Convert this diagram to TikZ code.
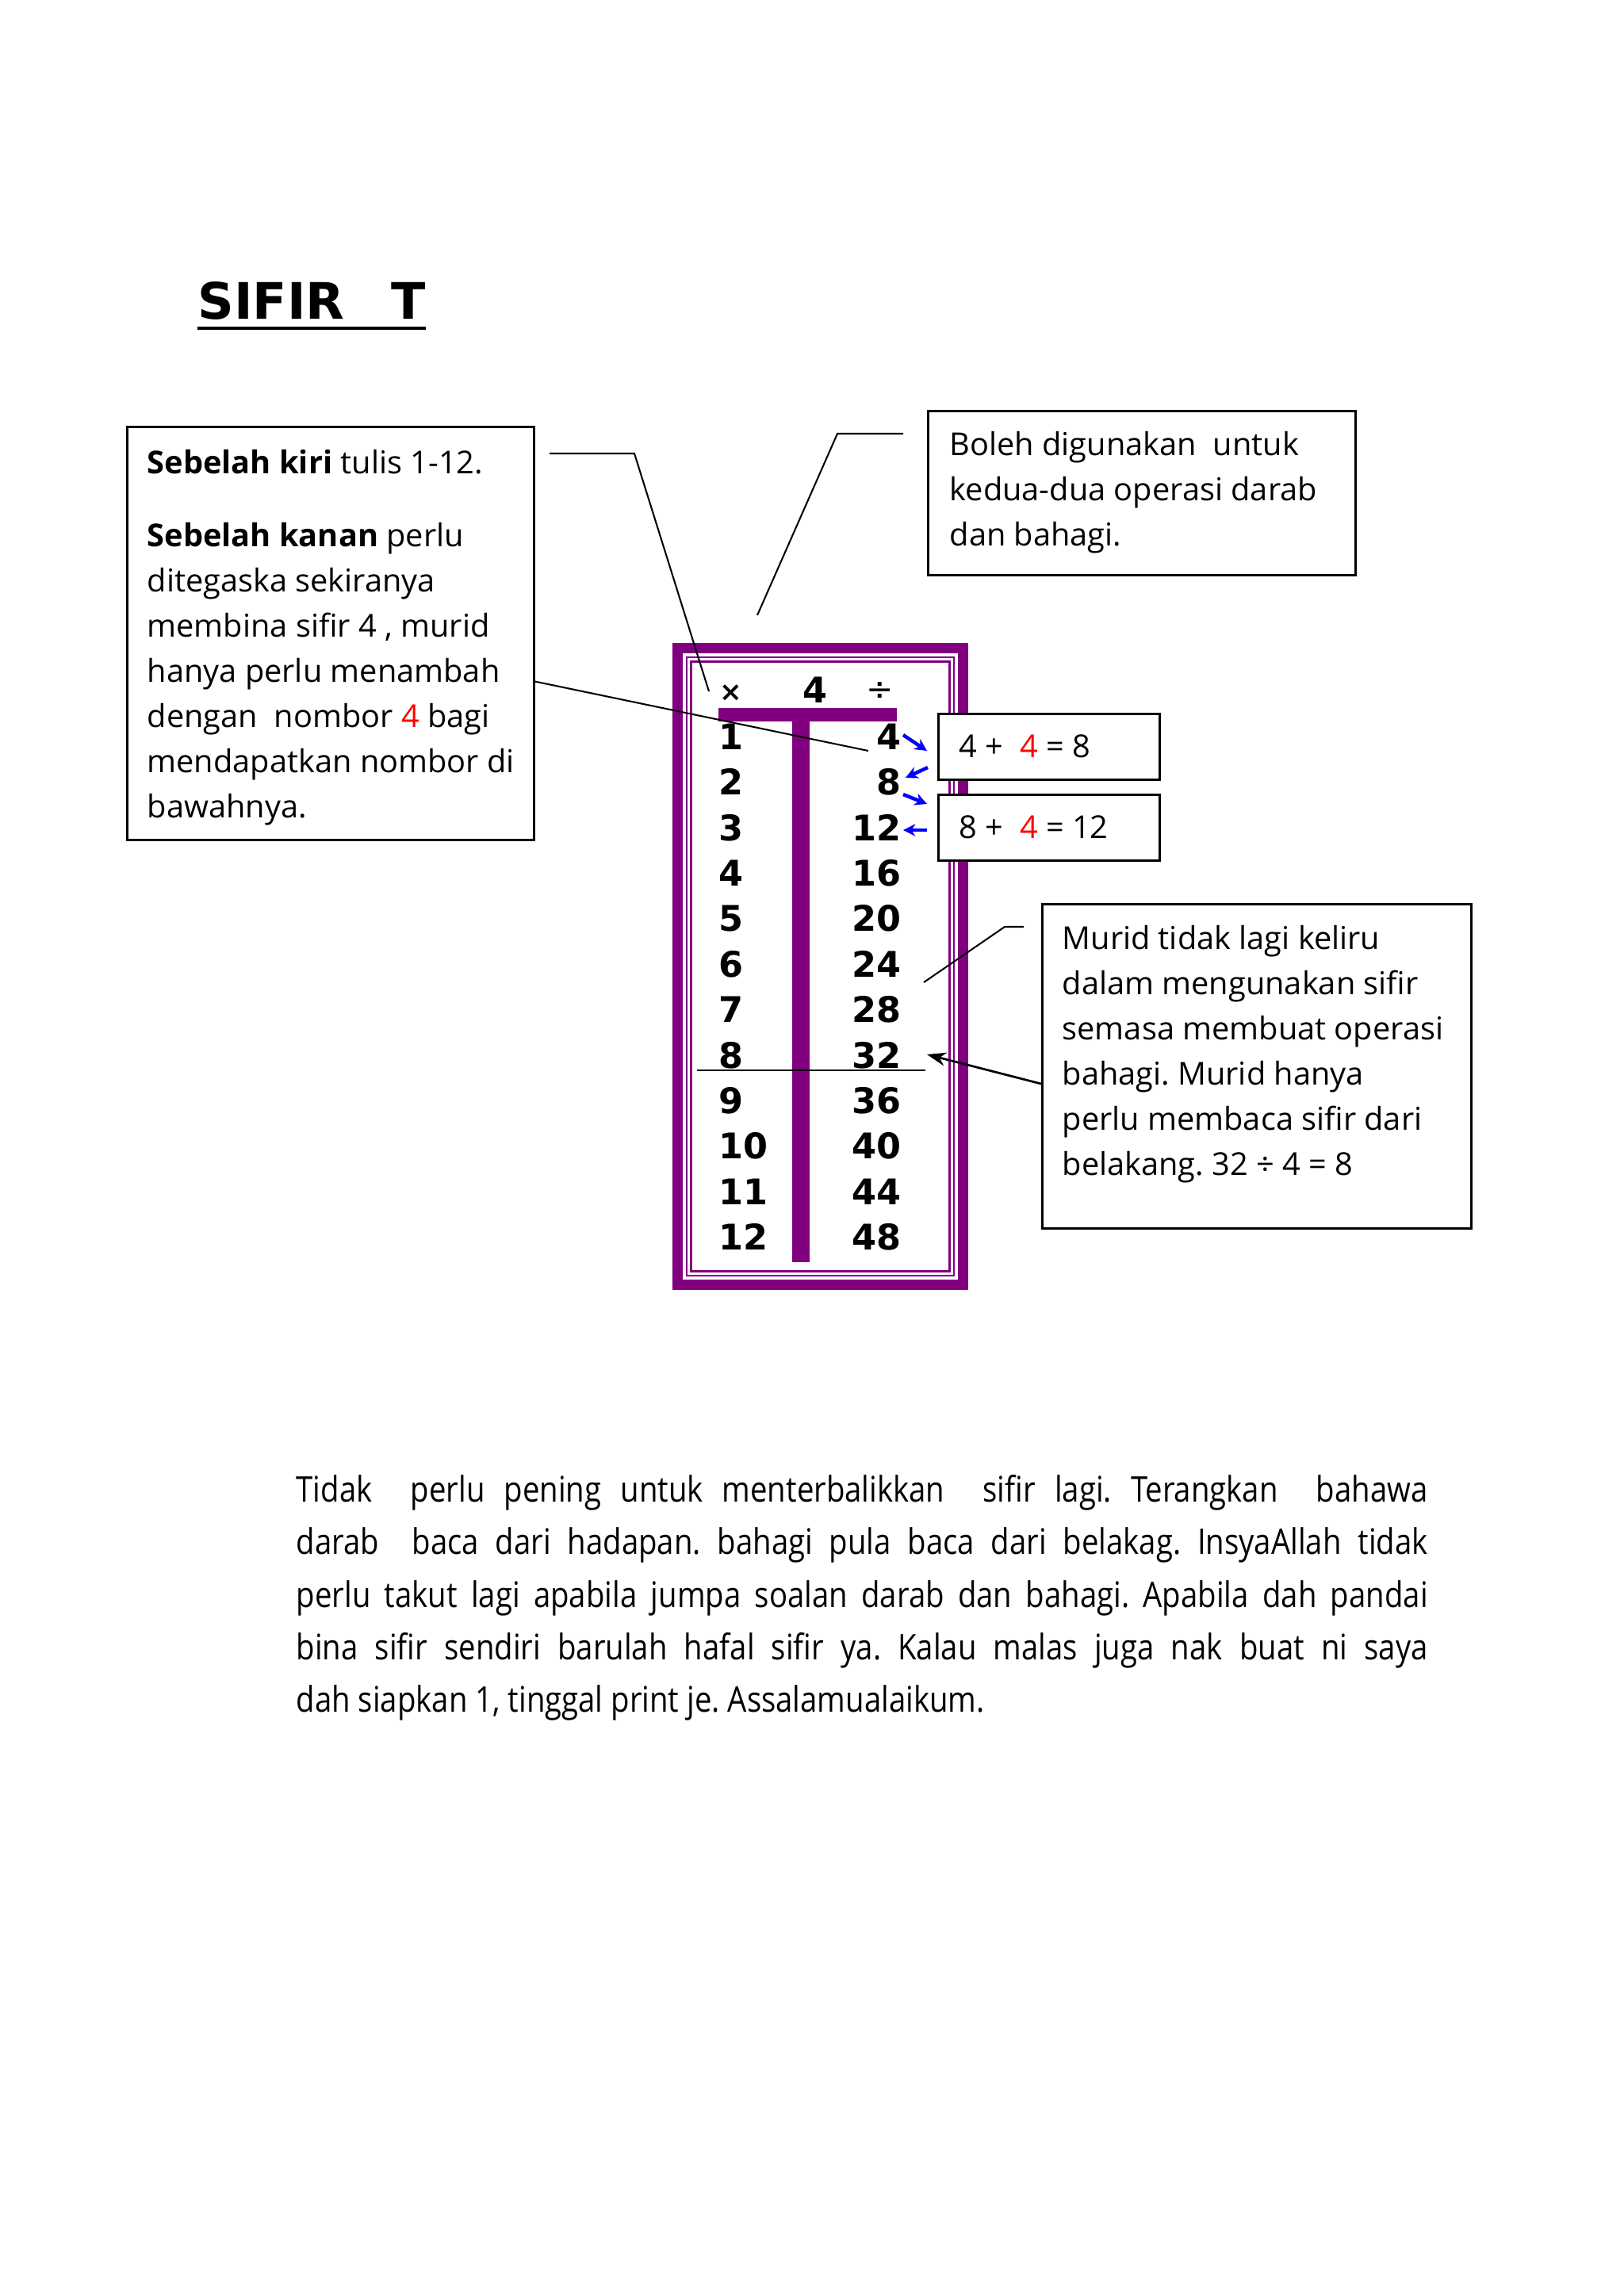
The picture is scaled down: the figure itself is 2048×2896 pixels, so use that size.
\documentclass[tikz,border=0pt]{standalone}
\usepackage{fontspec}
\setmainfont{Open Sans}
\newfontfamily\angkafont{DejaVu Sans}
\newfontfamily\sempitfont{Open Sans}[FakeStretch=0.86]
\usetikzlibrary{arrows.meta,positioning,calc}
\definecolor{sfungu}{HTML}{800080}
\definecolor{sbiru}{HTML}{0000FF}
\definecolor{smerah}{HTML}{FF0000}
\def\pxu{0.0102539cm}

\begin{document}
\frenchspacing
\begin{tikzpicture}[x=\pxu,y=-\pxu,>=Stealth,
  kotak/.style={draw,fill=white,line width=0.9pt,inner sep=0pt,anchor=north west},
  nota/.style={anchor=north west,align=left,inner sep=0pt,font=\fontsize{11.6}{16.6}\selectfont},
  garis/.style={line width=0.6pt},
  angka/.style={inner sep=0pt,font=\angkafont\bfseries\fontsize{13}{13}\selectfont},
  panahbiru/.style={-{Stealth[length=4.5pt,width=4.5pt]},sbiru,line width=1.3pt}]
\fill[white] (0,0) rectangle (2048,2896);
\useasboundingbox (0,0) rectangle (2048,2896);

% tajuk
\node[anchor=base west,inner sep=0pt,font=\angkafont\bfseries\fontsize{18.5}{18.5}\selectfont] (judul) at (249,402) {SIFIR\hspace{0.6cm}T};
\draw[line width=1.3pt] ([yshift=-3.5pt]judul.base west) -- ([yshift=-3.5pt]judul.base east);

% bingkai sifir T
\draw[sfungu,line width={13*\pxu}] (854.5,817.5) rectangle (1214.5,1620.5);
\draw[sfungu,line width={2.5*\pxu}] (866,829) rectangle (1203,1609);
\draw[sfungu,line width={2.5*\pxu}] (871.5,834.5) rectangle (1197.5,1603.5);
\fill[sfungu] (906,893) rectangle (1131,910);
\fill[sfungu] (999,910) rectangle (1021,1592);

\node[angka,font=\angkafont\bfseries\fontsize{10}{10}\selectfont] (kali) at (922,874) {×};
\node[angka] (empat) at (1028,870) {4};
\node[angka,font=\angkafont\fontsize{12}{12}\selectfont] (bahagisim) at (1110,872) {÷};
\foreach \k in {1,...,12}{
  \pgfmathtruncatemacro\hasil{4*\k}
  \node[angka,anchor=west] (bil\k) at (906,{929+(\k-1)*57.4}) {\k};
  \node[angka,anchor=east] (hasil\k) at (1137,{929+(\k-1)*57.4}) {\hasil};
}
\draw[garis] (879,1350) -- (1167,1350);

% kotak nota
\node[kotak,minimum width={513*\pxu},minimum height={521*\pxu}] (kiri) at (159,537) {};
\node[nota] (kiritxt) at (185,567) {\textbf{Sebelah kiri} tulis 1-12.\\[0.36cm]
  \textbf{Sebelah kanan} perlu\\ ditegaska sekiranya\\ membina sifir 4 , murid\\
  hanya perlu menambah\\ dengan\ \ nombor \textcolor{smerah}{4} bagi\\
  mendapatkan nombor di\\ bawahnya.};
\node[kotak,minimum width={539*\pxu},minimum height={207*\pxu}] (guna) at (1169,517) {};
\node[nota] (gunatxt) at (1197,544) {Boleh digunakan\ \ untuk\\ kedua-dua operasi darab\\ dan bahagi.};
\node[kotak,minimum width={279*\pxu},minimum height={83*\pxu}] (tambah1) at (1182,899) {};
\node[nota,anchor=west] (tambah1txt) at (1209,941) {4 +\ \ \textcolor{smerah}{4} = 8};
\node[kotak,minimum width={279*\pxu},minimum height={83*\pxu}] (tambah2) at (1182,1001) {};
\node[nota,anchor=west] (tambah2txt) at (1209,1043) {8 +\ \ \textcolor{smerah}{4} = 12};
\node[kotak,minimum width={541*\pxu},minimum height={409*\pxu}] (bahagi) at (1313,1139) {};
\node[nota] (bahagitxt) at (1339,1167) {Murid tidak lagi keliru\\ dalam mengunakan sifir\\
  semasa membuat operasi\\ bahagi. Murid hanya\\ perlu membaca sifir dari\\ belakang. 32 ÷ 4 = 8};

% garis penunjuk
\coordinate (p1) at (693,572);
\coordinate (p1b) at (800,572);
\coordinate (p1c) at (894,872);
\draw[garis] (p1) -- (p1b) -- (p1c);
\coordinate (p2) at (1139,547);
\coordinate (p2b) at (1056,547);
\coordinate (p2c) at (955,776);
\draw[garis] (p2) -- (p2b) -- (p2c);
\coordinate (p3) at (672,859);
\coordinate (p3c) at (1095,947);
\draw[garis] (p3) -- (p3c);
\coordinate (p4) at (1291,1169);
\coordinate (p4b) at (1267,1169);
\coordinate (p4c) at (1165,1239);
\draw[garis] (p4) -- (p4b) -- (p4c);
\coordinate (p5) at (1313,1367);
\coordinate (p5c) at (1169,1330);
\draw[line width=0.8pt,-{Stealth[length=7pt,width=5pt]}] (p5) -- (p5c);

% anak panah biru
\coordinate (b1) at (1139,927);
\coordinate (b2) at (1169,947);
\coordinate (b3) at (1170,968);
\coordinate (b4) at (1142,981);
\coordinate (b5) at (1139,1002);
\coordinate (b6) at (1169,1014);
\coordinate (b7) at (1169,1047);
\coordinate (b8) at (1139,1047);
\draw[panahbiru] (b1) -- (b2);
\draw[panahbiru] (b3) -- (b4);
\draw[panahbiru] (b5) -- (b6);
\draw[panahbiru] (b7) -- (b8);

% perenggan bawah
\node[anchor=north west,inner sep=0pt,text width={1427*\pxu},align=justify,
  font=\sempitfont\fontsize{13}{19.3}\selectfont] (perenggan) at (373,1860)
  {Tidak\ \ perlu pening untuk menterbalikkan\ \ sifir lagi. Terangkan\ \ bahawa\linebreak
  darab\ \ baca dari hadapan. bahagi pula baca dari belakag. InsyaAllah tidak\linebreak
  perlu takut lagi apabila jumpa soalan darab dan bahagi. Apabila dah pandai\linebreak
  bina sifir sendiri barulah hafal sifir ya. Kalau malas juga nak buat ni saya\linebreak
  dah siapkan 1, tinggal print je. Assalamualaikum.};
\end{tikzpicture}
\end{document}
